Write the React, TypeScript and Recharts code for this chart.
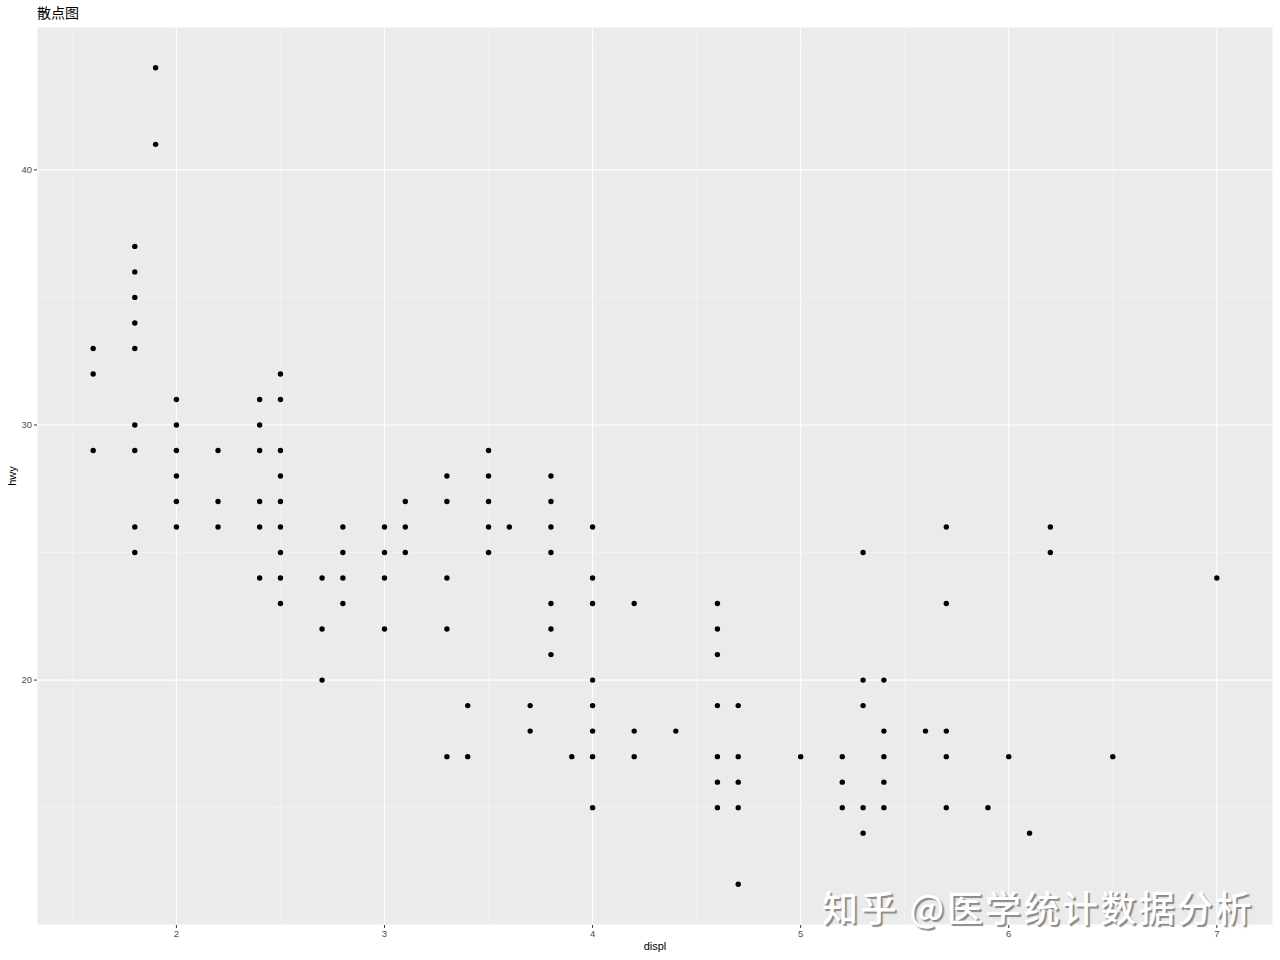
import { ScatterChart, Scatter, XAxis, YAxis, CartesianGrid, ReferenceLine, Label } from "recharts";

// unique (displ, hwy) pairs
const displ = [
  1.6, 1.6, 1.6,
  1.8, 1.8, 1.8, 1.8, 1.8, 1.8, 1.8, 1.8, 1.8,
  1.9, 1.9,
  2.0, 2.0, 2.0, 2.0, 2.0, 2.0,
  2.2, 2.2, 2.2,
  2.4, 2.4, 2.4, 2.4, 2.4, 2.4,
  2.5, 2.5, 2.5, 2.5, 2.5, 2.5, 2.5, 2.5, 2.5,
  2.7, 2.7, 2.7,
  2.8, 2.8, 2.8, 2.8,
  3.0, 3.0, 3.0, 3.0,
  3.1, 3.1, 3.1,
  3.3, 3.3, 3.3, 3.3, 3.3,
  3.4, 3.4,
  3.5, 3.5, 3.5, 3.5, 3.5,
  3.6,
  3.7, 3.7,
  3.8, 3.8, 3.8, 3.8, 3.8, 3.8, 3.8,
  3.9,
  4.0, 4.0, 4.0, 4.0, 4.0, 4.0, 4.0, 4.0,
  4.2, 4.2, 4.2,
  4.4,
  4.6, 4.6, 4.6, 4.6, 4.6, 4.6, 4.6,
  4.7, 4.7, 4.7, 4.7, 4.7,
  5.0,
  5.2, 5.2, 5.2,
  5.3, 5.3, 5.3, 5.3, 5.3,
  5.4, 5.4, 5.4, 5.4, 5.4,
  5.6,
  5.7, 5.7, 5.7, 5.7, 5.7,
  5.9,
  6.0,
  6.1,
  6.2, 6.2,
  6.5,
  7.0,
];
const hwy = [
  33, 32, 29,
  37, 36, 35, 34, 33, 30, 29, 26, 25,
  44, 41,
  31, 30, 29, 28, 27, 26,
  29, 27, 26,
  31, 30, 29, 27, 26, 24,
  32, 31, 29, 28, 27, 26, 25, 24, 23,
  24, 22, 20,
  26, 25, 24, 23,
  26, 25, 24, 22,
  27, 26, 25,
  28, 27, 24, 22, 17,
  19, 17,
  29, 28, 27, 26, 25,
  26,
  19, 18,
  28, 27, 26, 25, 23, 22, 21,
  17,
  26, 24, 23, 20, 19, 18, 17, 15,
  23, 18, 17,
  18,
  23, 22, 21, 19, 17, 16, 15,
  19, 17, 16, 15, 12,
  17,
  17, 16, 15,
  25, 20, 19, 15, 14,
  20, 18, 17, 16, 15,
  18,
  26, 23, 18, 17, 15,
  15,
  17,
  14,
  26, 25,
  17,
  24,
];

const xTicks = [2, 3, 4, 5, 6, 7];
const yTicks = [20, 30, 40];
const xMinor = [1.5, 2.5, 3.5, 4.5, 5.5, 6.5];
const yMinor = [15, 25, 35, 45];

const points = displ.map((d, i) => ({ displ: d, hwy: hwy[i] }));

const FONT = "Liberation Sans, Arial, sans-serif";
const tickStyle = { fontSize: 9.5, fill: "#4D4D4D", fontFamily: FONT };

const Dot = (props: any) => <circle cx={props.cx} cy={props.cy} r={2.7} fill="#000000" />;

export default function App() {
  return (
    <div style={{ position: "absolute", left: 0, top: 0, width: 1280, height: 960, background: "#fff" }}>
      <div
        style={{
          position: "absolute",
          left: 37,
          top: 3,
          fontSize: 14,
          fontFamily: "Noto Sans CJK SC, sans-serif",
          color: "#000",
          lineHeight: "18px",
        }}
      >
        散点图
      </div>
      <ScatterChart width={1280} height={960} margin={{ top: 27, right: 7, left: 0, bottom: 0 }}>
        <CartesianGrid fill="#EBEBEB" stroke="#FFFFFF" strokeWidth={1.1} />
        {xMinor.map((v) => (
          <ReferenceLine key={`vx${v}`} x={v} stroke="#F6F6F6" strokeWidth={0.6} />
        ))}
        {yMinor.map((v) => (
          <ReferenceLine key={`hy${v}`} y={v} stroke="#F6F6F6" strokeWidth={0.6} ifOverflow="hidden" />
        ))}
        <XAxis
          type="number"
          dataKey="displ"
          domain={[1.33, 7.27]}
          ticks={xTicks}
          allowDataOverflow
          height={35}
          axisLine={false}
          tickLine={{ stroke: "#333333" }}
          tickSize={3}
          tick={tickStyle}
        >
          <Label value="displ" position="center" dy={4} fill="#000000" fontSize={11} fontFamily={FONT} />
        </XAxis>
        <YAxis
          type="number"
          dataKey="hwy"
          domain={[10.4, 45.6]}
          ticks={yTicks}
          allowDataOverflow
          width={37}
          axisLine={false}
          tickLine={{ stroke: "#333333" }}
          tickSize={3}
          tick={tickStyle}
        >
          <Label value="hwy" position="center" angle={-90} dx={-6} fill="#000000" fontSize={11} fontFamily={FONT} />
        </YAxis>
        <Scatter data={points} fill="#000000" shape={Dot} isAnimationActive={false} />
      </ScatterChart>
      <div
        style={{
          position: "absolute",
          left: 822,
          top: 884,
          fontSize: 36,
          fontWeight: 500,
          fontFamily: "Noto Sans CJK SC, sans-serif",
          color: "#FFFFFF",
          textShadow: "2px 2px 1px #8A8A8A",
          letterSpacing: 2.4,
          lineHeight: "44px",
          whiteSpace: "nowrap",
        }}
      >
        知乎 @医学统计数据分析
      </div>
    </div>
  );
}
